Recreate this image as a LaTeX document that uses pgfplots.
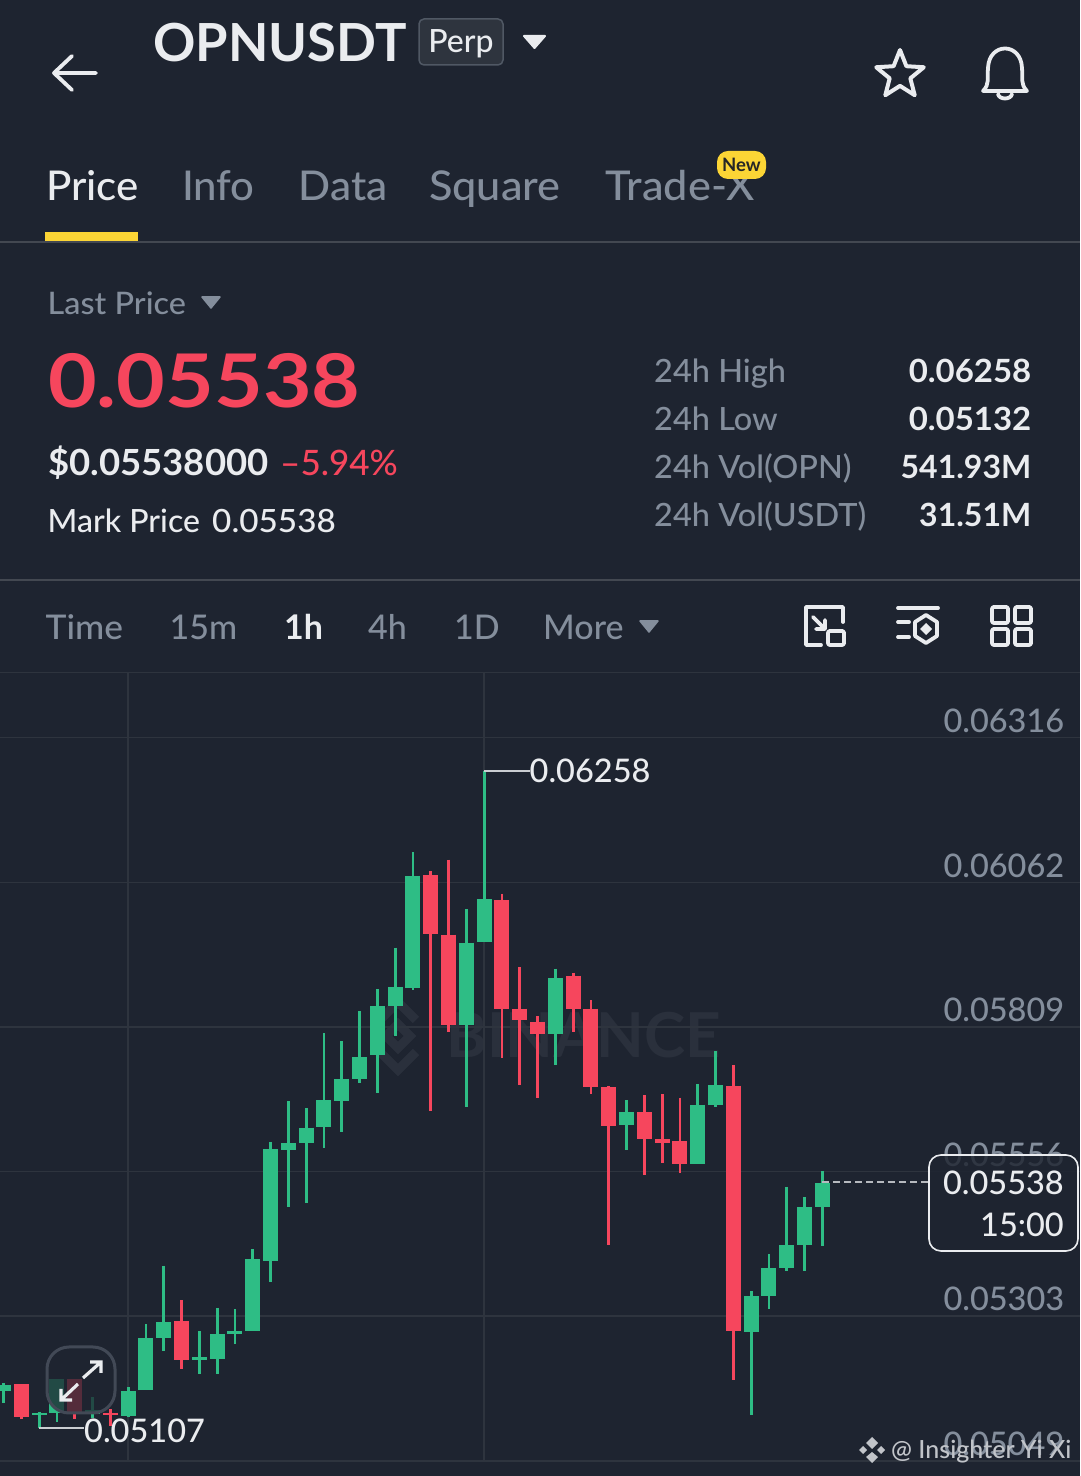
\documentclass[border=0pt]{standalone}
\usepackage{fontspec}
\setmainfont{Lato Medium}[BoldFont={Lato Bold}]
\usepackage{graphicx}
\usepackage{pgfplots}
\pgfplotsset{compat=1.18}
\usetikzlibrary{shapes.geometric}
\definecolor{bg}{HTML}{1E2430}
\definecolor{gridc}{HTML}{2E343E}
\definecolor{up}{HTML}{2EBD85}
\definecolor{down}{HTML}{F6465D}
\definecolor{mute}{HTML}{848E9C}
\definecolor{lite}{HTML}{EAECEF}
\definecolor{gold}{HTML}{FCD535}
\definecolor{ghost}{HTML}{2A303C}
\newcommand\fs[1]{\fontsize{#1}{#1}\selectfont}
\newcommand\sx[2]{\scalebox{#1}[1]{#2}}
\tikzset{px/.style={x=1pt,y=-1pt,yshift=1476pt},
 tl/.style={anchor=base west,inner sep=0pt},
 tr/.style={anchor=base east,inner sep=0pt},
 ic/.style={draw=lite,line width=3.8pt,line cap=round,line join=round}}
% one candle: colour, index, high, body top, body bottom, low
\newcommand\C[6]{%
 \addplot[#1,line width=2.8pt,forget plot] coordinates {(#2,#3) (#2,#6)};
 \addplot[#1,line width=15pt,forget plot] coordinates {(#2,#4) (#2,#5)};
}
\begin{document}
\begin{tikzpicture}
\path[use as bounding box] (0,0) rectangle (1080pt,1476pt);
\fill[bg] (0,0) rectangle (1080pt,1476pt);
\begin{scope}[px]
% --- header
\draw[ic] (96,73) -- (54,73) (72,56) -- (54,73) -- (72,90);
\node[tl,text=lite,font=\fs{52.5}\bfseries] at (153,62) {OPNUSDT};
\draw[draw=gridc!60!mute,fill=gridc,line width=1.5pt,rounded corners=5pt] (419,19) rectangle (503,65);
\node[text=lite,font=\fs{32},inner sep=0] at (461,44) {Perp};
\fill[lite,draw=lite,line width=2pt,line join=round] (524,36) -- (545,36) -- (534.5,48) -- cycle;
\node[star,star points=5,star point ratio=2.3,minimum size=50pt,inner sep=0,draw=lite,line width=4pt,line join=round] at (900,75) {};
\draw[ic] (983,91) .. controls (990,84) and (987,78) .. (988,68) .. controls (989,42) and (1021,42) .. (1022,68) .. controls (1023,78) and (1020,84) .. (1027,91) -- cycle;
\draw[ic] (998,94) .. controls (999,100) and (1011,100) .. (1012,94);
% --- tabs
\node[tl,text=lite,font=\fs{41}] at (46,201) {\sx{1.025}{Price}};
\node[tl,text=mute,font=\fs{41}] at (182,201) {\sx{1.02}{Info}};
\node[tl,text=mute,font=\fs{41}] at (298.5,201) {\sx{1.03}{Data}};
\node[tl,text=mute,font=\fs{41}] at (429,201) {\sx{1.055}{Square}};
\node[tl,text=mute,font=\fs{41}] at (605.5,201) {\sx{1.055}{Trade-X}};
\fill[gold,rounded corners=11pt] (717,151) rectangle (766,179);
\node[text=black!85,font=\fs{18.5}\bfseries,inner sep=0] at (741.5,165) {New};
\fill[gold] (45,232) rectangle (138,241);
\draw[gridc!90!white,line width=2pt] (0,242) -- (1080,242);
% --- price block
\node[tl,text=mute,font=\fs{31}] at (47.5,315) {\sx{1.045}{Last Price}};
\fill[mute,draw=mute,line width=1.5pt,line join=round] (202,297) -- (220,297) -- (211,308) -- cycle;
\node[tl,text=down,font=\fs{74}\bfseries] at (48,408) {\sx{1.135}{0.05538}};
\node[tl,text=lite,font=\fs{36}\bfseries] at (48,476) {\sx{1.014}{\$0.05538000}};
\node[tl,text=down,font=\fs{35}] at (280,476) {–5.94\%};
\node[tl,text=lite,font=\fs{32}] at (47.5,533) {Mark Price};
\node[tl,text=lite,font=\fs{32}] at (212,533) {\sx{1.04}{0.05538}};
\foreach \l/\v/\s/\y in {24h High/0.06258/1.03/382.5,24h Low/0.05132/1.03/430.5,24h Vol(OPN)/541.93M/1.0/478.5,24h Vol(USDT)/31.51M/1.0/526.5}{
 \node[tl,text=mute,font=\fs{32}] at (654,\y) {\sx{1.015}{\l}};
 \node[tr,text=lite,font=\fs{32}\bfseries] at (1031.5,\y) {\sx{\s}{\v}};
}
\draw[gridc!90!white,line width=2pt] (0,580) -- (1080,580);
% --- interval row
\node[tl,text=mute,font=\fs{34}] at (45.5,639.5) {\sx{1.04}{Time}};
\node[tl,text=mute,font=\fs{34}] at (169.5,639.5) {15m};
\node[tl,text=lite,font=\fs{34}\bfseries] at (284,639.5) {1h};
\node[tl,text=mute,font=\fs{34}] at (368,639.5) {4h};
\node[tl,text=mute,font=\fs{34}] at (454,639.5) {1D};
\node[tl,text=mute,font=\fs{34}] at (543,639.5) {More};
\fill[mute,draw=mute,line width=1.5pt,line join=round] (640,621) -- (658,621) -- (649,632) -- cycle;
\draw[ic] (843,622) -- (843,607) -- (806,607) -- (806,645) -- (821,645);
\draw[ic,rounded corners=2pt] (828,631) rectangle (844,645);
\draw[ic] (813,617) -- (825,629) (825,620) -- (825,629) -- (816,629);
\draw[ic] (898,608) -- (938,608) (898,622) -- (909,622) (898,637) -- (909,637);
\draw[ic] (926,615) -- (937,622) -- (937,636) -- (926,643) -- (915,636) -- (915,622) -- cycle;
\fill[lite] (926,623) -- (932,629) -- (926,635) -- (920,629) -- cycle;
\foreach \a/\b in {992/607,1015/607,992/629,1015/629}
 \draw[ic,rounded corners=2pt] (\a,\b) rectangle ++(16,16);
% --- watermark
\draw[ghost,line width=9pt,line join=miter] (380,1020) -- (398,1002) -- (416,1020) (380,1052) -- (398,1070) -- (416,1052) (386,1036) -- (398,1048) -- (410,1036) -- (398,1024) -- cycle;
\node[tl,text=ghost,font=\fs{62}\bfseries] at (446,1058) {BINANCE};
% chart frame lines
\draw[gridc,line width=1.8pt] (0,672.5) -- (1080,672.5) (0,1461) -- (1080,1461);
\end{scope}
\begin{axis}[at={(0pt,15pt)},anchor=south west,scale only axis,width=1080pt,height=789pt,
 xmin=-0.2022,xmax=60.472,ymin=0.05049,ymax=0.0643075,
 axis line style={draw=none},tick style={draw=none},major tick length=0pt,
 scaled y ticks=false,
 xtick={7,27},xticklabels={},
 ytick={0.05049,0.05303,0.05556,0.05809,0.06062,0.06316},
 yticklabels={0.05049,0.05303,0.05556,0.05809,0.06062,0.06316},
 yticklabel pos=right,
 grid=major,grid style={gridc,line width=1.6pt},
 yticklabel style={anchor=east,inner sep=0pt,xshift=-15.5pt,yshift=17pt,text=mute,font=\fs{32.5}},
 ]
\C{up}{0}{0.051855}{0.051829}{0.051715}{0.051505}
\C{down}{1}{0.051838}{0.051838}{0.051265}{0.051225}
\C{up}{2}{0.051348}{0.051335}{0.051290}{0.05107}
\C{up}{3}{0.051925}{0.051925}{0.051335}{0.051178}
\C{down}{4}{0.051925}{0.051925}{0.051335}{0.051225}
\C{up}{5}{0.051615}{0.051383}{0.051313}{0.051243}
\C{down}{6}{0.051400}{0.051335}{0.051295}{0.051103}
\C{up}{7}{0.051785}{0.051720}{0.051278}{0.051260}
\C{up}{8}{0.052888}{0.052637}{0.051733}{0.051733}
\C{up}{9}{0.053908}{0.052917}{0.052637}{0.052415}
\C{down}{10}{0.053308}{0.052935}{0.052258}{0.052100}
\C{up}{11}{0.052765}{0.052315}{0.052258}{0.052013}
\C{up}{12}{0.053173}{0.052713}{0.052275}{0.052013}
\C{up}{13}{0.053150}{0.052770}{0.052713}{0.052538}
\C{up}{14}{0.054195}{0.054025}{0.052765}{0.052765}
\C{up}{15}{0.056078}{0.055950}{0.053995}{0.053628}
\C{up}{16}{0.056790}{0.056060}{0.055933}{0.054940}
\C{up}{17}{0.056668}{0.056330}{0.056067}{0.055010}
\C{up}{18}{0.057985}{0.056808}{0.056340}{0.055980}
\C{up}{19}{0.057840}{0.057187}{0.056790}{0.056260}
\C{up}{20}{0.058370}{0.057565}{0.057187}{0.057110}
\C{up}{21}{0.058750}{0.058458}{0.057595}{0.056942}
\C{up}{22}{0.059480}{0.058790}{0.058458}{0.057933}
\C{up}{23}{0.061153}{0.060740}{0.058780}{0.058745}
\C{down}{24}{0.060815}{0.060750}{0.059713}{0.056615}
\C{down}{25}{0.061020}{0.059707}{0.058120}{0.058003}
\C{up}{26}{0.060150}{0.059567}{0.058120}{0.056690}
\C{up}{27}{0.06258}{0.060330}{0.059578}{0.059578}
\C{down}{28}{0.060425}{0.060308}{0.058405}{0.057555}
\C{down}{29}{0.059140}{0.058412}{0.058208}{0.057070}
\C{down}{30}{0.058283}{0.058185}{0.057975}{0.056855}
\C{up}{31}{0.059112}{0.058943}{0.057975}{0.057420}
\C{down}{32}{0.059042}{0.058990}{0.058400}{0.058003}
\C{down}{33}{0.058558}{0.058412}{0.057040}{0.056925}
\C{down}{34}{0.057058}{0.057040}{0.056358}{0.054270}
\C{up}{35}{0.056808}{0.056598}{0.056370}{0.055933}
\C{down}{36}{0.056895}{0.056598}{0.056137}{0.055507}
\C{down}{37}{0.056913}{0.056125}{0.056060}{0.055710}
\C{down}{38}{0.056855}{0.056090}{0.055688}{0.055525}
\C{up}{39}{0.057088}{0.056732}{0.055693}{0.055693}
\C{up}{40}{0.057665}{0.057070}{0.056720}{0.056685}
\C{down}{41}{0.057425}{0.057065}{0.052765}{0.051908}
\C{up}{42}{0.053470}{0.053378}{0.052748}{0.051295}
\C{up}{43}{0.054107}{0.053868}{0.053378}{0.053155}
\C{up}{44}{0.055290}{0.054265}{0.053868}{0.053810}
\C{up}{45}{0.055115}{0.054935}{0.054265}{0.053820}
\C{up}{46}{0.055570}{0.055360}{0.054930}{0.054258}
% high and low leaders, last-price line
\addplot[lite!85!bg,line width=1.8pt,forget plot] coordinates {(27,0.06258) (29.57,0.06258)};
\addplot[lite!85!bg,line width=1.8pt,forget plot] coordinates {(2,0.05107) (4.52,0.05107)};
\addplot[lite!75!bg,line width=1.5pt,dash pattern=on 7pt off 4pt,forget plot] coordinates {(46,0.05538) (51.93,0.05538)};
\end{axis}
\begin{scope}[px]
\node[tl,text=lite,font=\fs{32.5}] at (529.5,783) {0.06258};
% expand button
\draw[draw=mute!35!bg,fill=bg,fill opacity=0.75,line width=3pt,rounded corners=22pt] (47,1347) rectangle (115,1413);
\draw[draw=lite,line width=3.2pt,line join=miter] (83,1378) -- (101,1362) (90,1362) -- (101,1362) -- (101,1373) (78,1384) -- (61,1400) (61,1389) -- (61,1400) -- (72,1400);
\node[tl,text=lite,font=\fs{32.5}] at (84,1442) {0.05107};
% last-price box
\draw[draw=lite,line width=1.6pt,fill=bg,fill opacity=0.82,rounded corners=12pt] (929,1155) rectangle (1078,1251);
\node[tr,text=lite,font=\fs{32.5}] at (1064,1195) {0.05538};
\node[tr,text=lite,font=\fs{32.5}] at (1064,1237) {15:00};
% source mark
\fill[lite!80!bg] (872,1437) -- (878,1443) -- (872,1449) -- (866,1443) -- cycle;
\fill[lite!80!bg] (872,1452) -- (878,1457) -- (872,1463) -- (866,1457) -- cycle;
\fill[lite!80!bg] (863,1446) -- (867,1450) -- (863,1454) -- (859,1450) -- cycle;
\fill[lite!80!bg] (881,1446) -- (885,1450) -- (881,1454) -- (877,1450) -- cycle;
\node[tl,text=lite!80!bg,font=\fs{25}] at (891,1459) {@ Insighter Yi Xi};
\end{scope}
\end{tikzpicture}
\end{document}
